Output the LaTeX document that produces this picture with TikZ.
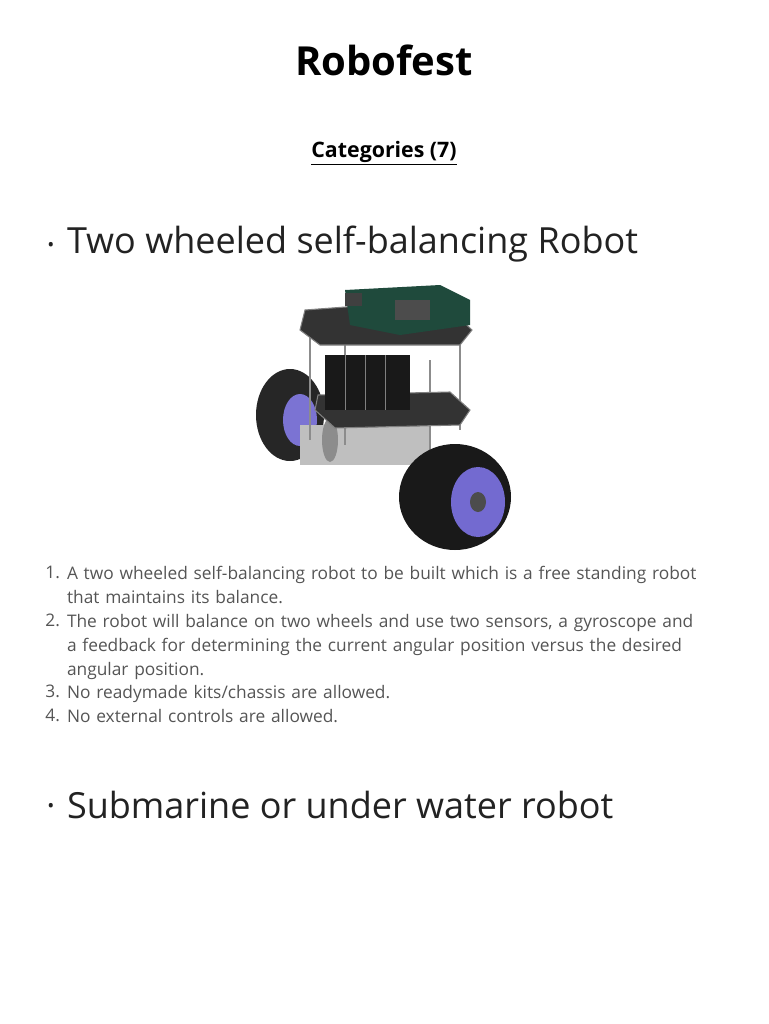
\documentclass[tikz,border=0pt]{standalone}
\usepackage{fontspec}
\setmainfont{Open Sans}
\usetikzlibrary{positioning}
\definecolor{bodytext}{HTML}{555555}
\definecolor{headtext}{HTML}{222222}
\definecolor{hubblue}{HTML}{5A50C8}
\definecolor{pcbgreen}{HTML}{1F4A3C}
\begin{document}
\begin{tikzpicture}[x=0.75pt,y=-0.75pt,
    every node/.style={inner sep=0pt, outer sep=0pt},
    heading/.style={anchor=west, font=\fontsize{27}{32}\selectfont, text=headtext},
    bulletdot/.style={anchor=center, font=\fontsize{14}{16}\selectfont, text=headtext},
    itemnum/.style={anchor=north east, font=\fontsize{13}{18}\selectfont, text=bodytext},
    itemtext/.style={anchor=north west, text width=500pt, align=left,
        font=\fontsize{13}{18}\selectfont, text=bodytext},
    plate/.style={fill=black!80, draw=black!50, line width=0.8pt},
    post/.style={draw=black!45, line width=2pt}
  ]
  \useasboundingbox (0,0) rectangle (768,1024);

  % Title and subtitle
  \node (title) at (384,60) {\fontsize{30}{36}\selectfont\bfseries Robofest};
  \node (cats) at (384,153) {\fontsize{16}{20}\selectfont\bfseries\underline{Categories (7)}};

  % First heading
  \node[bulletdot] (b1) at (51,247) {•};
  \node[heading] (h1) at (67,244) {Two wheeled self-balancing Robot};

  % Robot sketch
  \fill[black!85] (290,415) ellipse (34 and 46);
  \fill[hubblue!80] (300,420) ellipse (17 and 26);
  \fill[black!25] (300,425) rectangle (430,465);
  \fill[black!45] (330,440) ellipse (8 and 22);
  \draw[post] (310,330) -- (310,440);
  \draw[post] (460,345) -- (460,430);
  \draw[post] (345,345) -- (345,445);
  \draw[post] (430,360) -- (430,455);
  \draw[plate] (318,395) -- (450,392) -- (470,410) -- (460,425) -- (335,428) -- (315,410) -- cycle;
  \fill[black!90] (325,355) rectangle (410,410);
  \draw[black!50] (345,355) -- (345,410) (365,355) -- (365,410) (385,355) -- (385,410);
  \draw[plate] (305,310) -- (440,300) -- (472,330) -- (460,345) -- (320,345) -- (300,330) -- cycle;
  \fill[pcbgreen] (345,290) -- (440,285) -- (470,300) -- (470,325) -- (400,335) -- (350,325) -- cycle;
  \fill[black!70] (395,300) rectangle (430,320);
  \fill[black!75] (345,293) rectangle (362,306);
  \fill[black!90] (455,497) ellipse (56 and 53);
  \fill[hubblue!85] (478,502) ellipse (27 and 35);
  \fill[black!70] (478,502) ellipse (8 and 10);

  % Numbered rules
  \node[itemnum] (n1) at (60,566) {1.};
  \node[itemtext] (t1) at (67,566) {A two wheeled self-balancing robot to be built which is a free standing robot\\that maintains its balance.};
  \node[itemnum] (n2) at (60,614) {2.};
  \node[itemtext] (t2) at (67,614) {The robot will balance on two wheels and use two sensors, a gyroscope and\\a feedback for determining the current angular position versus the desired\\angular position.};
  \node[itemnum] (n3) at (60,685) {3.};
  \node[itemtext] (t3) at (67,685) {No readymade kits/chassis are allowed.};
  \node[itemnum] (n4) at (60,709) {4.};
  \node[itemtext] (t4) at (67,709) {No external controls are allowed.};

  % Second heading
  \node[bulletdot] (b2) at (51,808) {•};
  \node[heading] (h2) at (67,805) {Submarine or under water robot};
\end{tikzpicture}
\end{document}
